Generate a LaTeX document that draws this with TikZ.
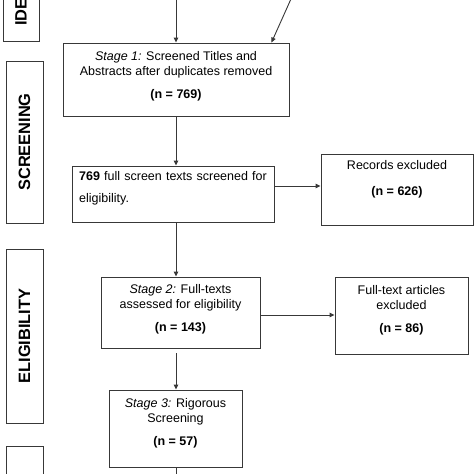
\documentclass[tikz,border=0pt]{standalone}
\usepackage{fontspec}
\setmainfont{Liberation Sans}
\usetikzlibrary{arrows.meta,calc}
\begin{document}
\begin{tikzpicture}[x=1pt,y=-1pt,
  box/.style={draw=black!78, line width=0.9pt, rectangle, inner sep=0pt},
  bar/.style={draw=black!78, line width=0.9pt, rectangle, rotate=90, inner sep=0pt,
    font=\fontsize{16.4}{18}\selectfont\bfseries},
  txt/.style={align=center, inner sep=0pt, font=\fontsize{12.5}{15}\selectfont},
  arr/.style={draw=black!78, line width=0.9pt, -{Triangle[length=5pt,width=4.5pt]}},
  ln/.style={draw=black!78, line width=0.9pt}]
\useasboundingbox (0,0) rectangle (474,474);
\clip (0,0) rectangle (474,474);
\fill[white] (0,0) rectangle (474,474);

% phase bars
\node[bar, minimum width=160, minimum height=36] (idbar) at (21,-39) {IDENTIFICATION};
\node[bar, minimum width=162, minimum height=37] (scbar) at (24.5,142) {SCREENING};
\node[bar, minimum width=174, minimum height=37] (elbar) at (24.5,336) {ELIGIBILITY};
\node[bar, minimum width=80, minimum height=37] (inbar) at (24.5,486) {};

% boxes
\node[box, minimum width=226, minimum height=73] (s1) at (176,79.5) {};
\node[txt] (s1t) at (176,76) {\textit{Stage 1:} Screened Titles and\\Abstracts after duplicates removed\\[8pt]\textbf{(n = 769)}};

\node[box, minimum width=202, minimum height=56] (b2) at (173,194) {};
\node[txt, anchor=west, align=left, text width=192pt, font=\fontsize{12.5}{22}\selectfont] (b2t) at (79,188) {\textbf{769} full screen texts screened for\\eligibility.};

\node[box, minimum width=152, minimum height=71] (rec) at (397,189.5) {};
\node[txt, font=\fontsize{12.5}{26}\selectfont] (rect) at (397,179) {Records excluded\\\textbf{(n = 626)}};

\node[box, minimum width=159, minimum height=71] (s2) at (180.5,312.5) {};
\node[txt] (s2t) at (180.5,309) {\textit{Stage 2:} Full-texts\\assessed for eligibility\\[8pt]\textbf{(n = 143)}};

\node[box, minimum width=133, minimum height=77] (ft) at (401.5,315.5) {};
\node[txt] (ftt) at (401.5,310) {Full-text articles\\excluded\\[8pt]\textbf{(n = 86)}};

\node[box, minimum width=133, minimum height=77] (s3) at (175.5,428.5) {};
\node[txt] (s3t) at (175.5,423) {\textit{Stage 3:} Rigorous\\Screening\\[8pt]\textbf{(n = 57)}};

% free ends
\coordinate (top1) at (176,-10);
\coordinate (top2) at (295,-10);
\coordinate (bot) at (176,485);

% connectors
\draw[arr] (top1) -- (s1.north);
\draw[arr] (top2) -- ($(s1.north east)+(-18,0)$);
\draw[arr] (s1.south) -- (s1.south |- b2.north);
\draw[arr] (b2.east |- 0,186) -- (rec.west |- 0,186);
\draw[arr] (b2.south -| s1) -- (s2.north -| s1);
\draw[arr] (s2.east |- 0,315) -- (ft.west |- 0,315);
\draw[arr, shorten <=5pt] (s2.south -| s1) -- (s3.north -| s1);
\draw[ln] (s3.south -| s1) -- (bot);
\end{tikzpicture}
\end{document}
